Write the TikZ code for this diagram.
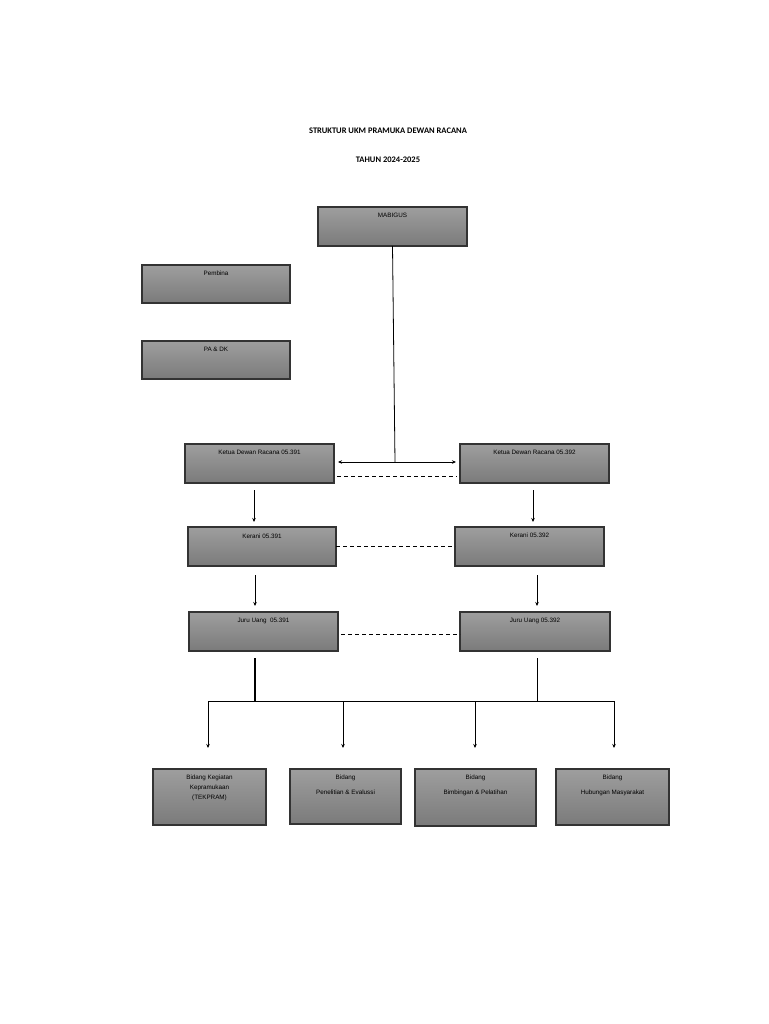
\documentclass[tikz,border=0pt]{standalone}
\usepackage{fontspec}
\setmainfont{Carlito}
\newfontfamily\boxfont{Liberation Sans}
\usetikzlibrary{arrows.meta}
\begin{document}
\begin{tikzpicture}[x=1pt,y=-1pt,
  bx/.style={draw=black!80,line width=1.2pt,top color=black!38,bottom color=black!52,inner sep=0pt},
  lbl/.style={font=\boxfont\fontsize{6.3}{9}\selectfont,align=center,anchor=north,inner sep=0pt},
  ln/.style={line width=0.8pt},
  ar/.style={line width=0.9pt,-{Stealth[length=4pt,width=3.5pt]}},
  dsh/.style={line width=0.8pt,dash pattern=on 4pt off 3pt}]
\useasboundingbox (0,0) rectangle (768,1024);
\node[font=\bfseries\fontsize{8.5}{10}\selectfont] (t1) at (388,131) {STRUKTUR UKM PRAMUKA DEWAN RACANA};
\node[font=\bfseries\fontsize{8.5}{10}\selectfont] (t2) at (388,160) {TAHUN 2024-2025};
\newcommand{\bbox}[6]{\path[bx] (#2,#3) rectangle (#4,#5); \node[lbl] (#1) at ({(#2+#4)/2},{#3+6}) {#6}; \coordinate (#1-n) at ({(#2+#4)/2},#3); \coordinate (#1-s) at ({(#2+#4)/2},#5); \coordinate (#1-e) at (#4,{(#3+#5)/2}); \coordinate (#1-w) at (#2,{(#3+#5)/2});}
\bbox{mab}{318}{207}{467}{246}{MABIGUS}
\bbox{pem}{142}{265}{290}{303}{Pembina}
\bbox{pa}{142}{341}{290}{379}{PA \& DK}
\bbox{ka}{185}{444}{334}{483}{Ketua Dewan Racana 05.391}
\bbox{kb}{460}{444}{609}{483}{Ketua Dewan Racana 05.392}
\bbox{ra}{188}{527}{336}{566}{\\[-4pt]Kerani 05.391}
\bbox{rb}{455}{527}{604}{566}{Kerani 05.392}
\bbox{ja}{189}{612}{338}{651}{Juru Uang\ \ 05.391}
\bbox{jb}{460}{612}{610}{651}{Juru Uang 05.392}
\bbox{b1}{153}{769}{266}{825}{Bidang Kegiatan\\[1pt]Kepramukaan\\[1pt](TEKPRAM)}
\bbox{b2}{290}{769}{401}{824}{Bidang\\[6pt]Penelitian \& Evalussi}
\bbox{b3}{415}{769}{536}{826}{Bidang\\[6pt]Bimbingan \& Pelatihan}
\bbox{b4}{556}{769}{669}{825}{Bidang\\[6pt]Hubungan Masyarakat}
\coordinate (jn) at (395,462);
\draw[ln] (mab-s) -- (jn);
\draw[line width=0.9pt,{Stealth[length=4pt,width=3.5pt]}-{Stealth[length=4pt,width=3.5pt]}] (338,462) -- (456,462);
\draw[dsh] (ka.south -| ka-e) ++(3,0) coordinate (d1) (d1 |- 0,476) -- (457,476);
\draw[ar] (254,490) -- (254,522);
\draw[ar] (533,490) -- (533,522);
\draw[dsh] (ra-e) -- (rb-w);
\draw[ar] (255,575) -- (255,606);
\draw[ar] (537,575) -- (537,606);
\draw[dsh] (341,634) -- (460,634);
\draw[line width=1.3pt] (255,658) -- (255,701);
\draw[ln] (537,658) -- (537,701);
\draw[ln] (208,701) -- (614,701);
\foreach \x in {208,343,475,614} \draw[ar] (\x,701) -- (\x,748);
\end{tikzpicture}
\end{document}
